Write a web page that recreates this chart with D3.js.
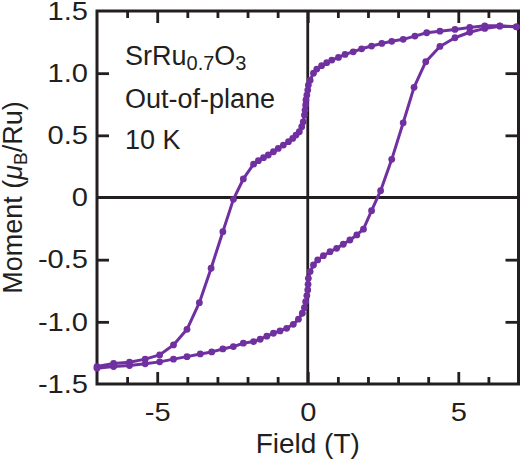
<!DOCTYPE html>
<html><head><meta charset="utf-8">
<script src="https://cdn.jsdelivr.net/npm/d3@7"></script>
<style>body{margin:0;background:#fff}svg{display:block}</style>
</head><body>
<script>
// Descending branch (field swept +7 T -> -7 T)
const descField = [6.93,6.38,5.88,5.38,4.89,4.39,3.95,3.56,3.17,2.79,2.46,2.12,1.79,1.51,1.24,1.02,0.80,0.63,0.46,0.30,0.19,0.08,0.02,0.00,-0.03,-0.06,-0.07,-0.09,-0.11,-0.15,-0.20,-0.28,-0.39,-0.50,-0.64,-0.81,-0.98,-1.14,-1.31,-1.47,-1.64,-1.80,-2.14,-2.47,-2.82,-3.21,-3.60,-4.01,-4.46,-4.92,-5.40,-5.92,-6.45,-7.00];
const descMoment = [1.373,1.381,1.381,1.368,1.352,1.338,1.325,1.298,1.272,1.256,1.239,1.218,1.196,1.172,1.151,1.127,1.105,1.084,1.060,1.033,1.000,0.944,0.904,0.864,0.824,0.784,0.744,0.703,0.663,0.609,0.569,0.529,0.502,0.475,0.449,0.422,0.395,0.368,0.342,0.320,0.296,0.268,0.149,-0.015,-0.275,-0.569,-0.846,-1.060,-1.186,-1.266,-1.300,-1.325,-1.335,-1.360];
// Ascending branch (field swept -7 T -> +7 T)
const ascField = [-7.00,-6.45,-5.92,-5.40,-4.92,-4.46,-4.01,-3.57,-3.19,-2.82,-2.47,-2.14,-1.80,-1.58,-1.36,-1.14,-0.92,-0.70,-0.48,-0.31,-0.18,-0.11,-0.07,-0.03,0.00,0.01,0.02,0.08,0.19,0.33,0.52,0.74,0.96,1.18,1.40,1.63,1.85,2.12,2.42,2.79,3.17,3.53,3.92,4.39,4.89,5.38,5.88,6.38,6.93];
const ascMoment = [-1.373,-1.360,-1.352,-1.338,-1.322,-1.300,-1.280,-1.258,-1.242,-1.218,-1.199,-1.172,-1.159,-1.140,-1.115,-1.092,-1.073,-1.052,-1.020,-0.979,-0.931,-0.886,-0.838,-0.789,-0.744,-0.698,-0.650,-0.596,-0.543,-0.502,-0.468,-0.436,-0.409,-0.376,-0.342,-0.301,-0.255,-0.106,0.055,0.307,0.601,0.886,1.092,1.215,1.285,1.329,1.360,1.378,1.373];

const xMajorTicks = [-5, 0, 5];
const xMinorTicks = [-6,-4,-3,-2,-1,1,2,3,4,6];
const xTickLabels = ["-5", "0", "5"];
const yTicks = [-1.5,-1.0,-0.5,0,0.5,1.0,1.5];
const yTickLabels = ["-1.5","-1.0","-0.5","0","0.5","1.0","1.5"];
const yMarkTicks = [-1.0,-0.5,0.5,1.0];
const xDomain = [-7, 7];
const yDomain = [-1.5, 1.5];
const noteLines = ["Out-of-plane", "10 K"];

const W = 520, H = 461;
const m = {left: 97, right: 1.5, top: 11, bottom: 77};
const purple = "#7030a0", ink = "#231f20";
const font = "'Liberation Sans', Arial, Helvetica, sans-serif";

const svg = d3.select("body").append("svg").attr("width", W).attr("height", H)
  .style("font-family", font);

const x = d3.scaleLinear().domain(xDomain).range([m.left, W - m.right]);
const y = d3.scaleLinear().domain(yDomain).range([H - m.bottom, m.top]);

function styleAxis(g) {
  g.select(".domain").remove();
  g.selectAll(".tick line").attr("stroke", ink).attr("stroke-width", 2.8);
  g.selectAll(".tick text").attr("fill", ink).style("font-family", font);
}
function wideLabels(g) {
  g.selectAll("text").attr("font-size", 26).attr("transform", "scale(1.12,1)");
}

// zero lines
svg.append("line").attr("x1", x(0)).attr("x2", x(0)).attr("y1", y(1.5)).attr("y2", y(-1.5))
  .attr("stroke", ink).attr("stroke-width", 2.8);
svg.append("line").attr("x1", x(-7)).attr("x2", x(7)).attr("y1", y(0)).attr("y2", y(0))
  .attr("stroke", ink).attr("stroke-width", 2.8);

// bottom axis
svg.append("g").attr("transform", `translate(0,${y(-1.5)})`)
  .call(d3.axisBottom(x).tickValues(xMajorTicks).tickSize(-12).tickPadding(19)
    .tickFormat((d, i) => xTickLabels[i]))
  .call(styleAxis).call(wideLabels);
svg.append("g").attr("transform", `translate(0,${y(-1.5)})`)
  .call(d3.axisBottom(x).tickValues(xMinorTicks).tickSize(-7).tickFormat(""))
  .call(styleAxis);
// top axis
svg.append("g").attr("transform", `translate(0,${y(1.5)})`)
  .call(d3.axisTop(x).tickValues(xMajorTicks).tickSize(-12).tickFormat(""))
  .call(styleAxis);
svg.append("g").attr("transform", `translate(0,${y(1.5)})`)
  .call(d3.axisTop(x).tickValues(xMinorTicks).tickSize(-7).tickFormat(""))
  .call(styleAxis);
// left axis
svg.append("g").attr("transform", `translate(${x(-7)},0)`)
  .call(d3.axisLeft(y).tickValues(yMarkTicks).tickSize(-12).tickFormat(""))
  .call(styleAxis);
svg.append("g").attr("transform", `translate(${x(-7)},0)`)
  .call(d3.axisLeft(y).tickValues(yTicks).tickSize(0).tickPadding(8)
    .tickFormat((d, i) => yTickLabels[i]))
  .call(styleAxis).call(wideLabels);
// right axis
svg.append("g").attr("transform", `translate(${x(7)},0)`)
  .call(d3.axisRight(y).tickValues(yMarkTicks).tickSize(-13).tickFormat(""))
  .call(styleAxis);

// frame
svg.append("rect").attr("x", x(-7)).attr("y", y(1.5))
  .attr("width", x(7) - x(-7)).attr("height", y(-1.5) - y(1.5))
  .attr("fill", "none").attr("stroke", ink).attr("stroke-width", 3);

// data
const desc = descField.map((f, i) => [f, descMoment[i]]);
const asc = ascField.map((f, i) => [f, ascMoment[i]]);
const line = d3.line().x(d => x(d[0])).y(d => y(d[1]));
[desc, asc].forEach(series => {
  svg.append("path").datum(series).attr("d", line)
    .attr("fill", "none").attr("stroke", purple).attr("stroke-width", 3)
    .attr("stroke-linejoin", "round");
  svg.append("g").selectAll("circle").data(series).join("circle")
    .attr("cx", d => x(d[0])).attr("cy", d => y(d[1])).attr("r", 3.4)
    .attr("fill", purple);
});

// annotation
const note = svg.append("g").attr("fill", ink).attr("font-size", 27);
const t1 = note.append("text").attr("x", 125).attr("y", 65);
t1.append("tspan").text("SrRu");
t1.append("tspan").attr("font-size", 20).attr("dy", 5).text("0.7");
t1.append("tspan").attr("dy", -5).text("O");
t1.append("tspan").attr("font-size", 20).attr("dy", 5).text("3");
noteLines.forEach((s, i) => {
  note.append("text").attr("x", 125).attr("y", 108 + i * 41).text(s);
});

// axis titles
svg.append("text").attr("x", x(0)).attr("y", 453).attr("text-anchor", "middle")
  .attr("font-size", 28).attr("fill", ink).text("Field (T)");
const yl = svg.append("text").attr("transform", `translate(22,${(y(1.5)+y(-1.5))/2}) rotate(-90)`)
  .attr("text-anchor", "middle").attr("font-size", 27).attr("fill", ink);
yl.append("tspan").text("Moment (");
yl.append("tspan").attr("font-style", "italic").text("μ");
yl.append("tspan").attr("font-size", 19).attr("dy", 5).text("B");
yl.append("tspan").attr("dy", -5).text("/Ru)");
</script>
</body></html>
